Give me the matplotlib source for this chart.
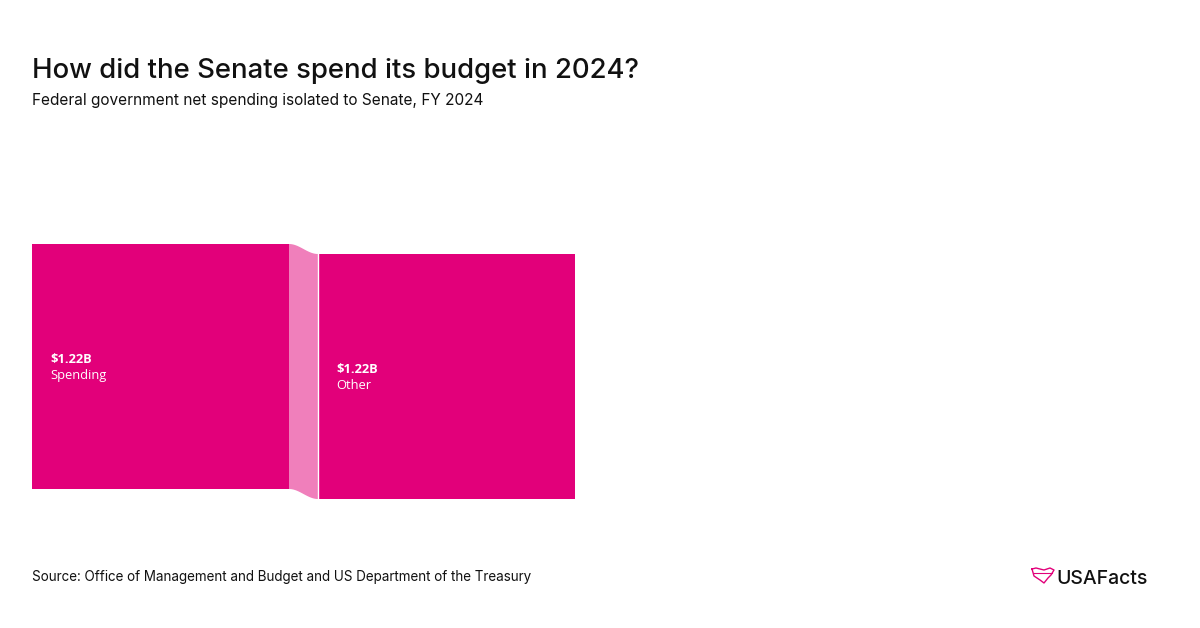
import matplotlib.pyplot as plt
from matplotlib.path import Path
from matplotlib.patches import PathPatch, Rectangle
import numpy as np

# data
source_label = "Spending"
target_labels = ["Other"]
source_value = 1.22  # billions
target_values = [1.22]
value_labels = ["$1.22B", "$1.22B"]

PINK = "#e2007a"
LINK = "#f07fbb"

W, H = 1200, 628
fig = plt.figure(figsize=(12, 6.28), dpi=100)
ax = fig.add_axes([0, 0, 1, 1])
ax.set_xlim(0, W)
ax.set_ylim(H, 0)
ax.axis("off")

# scale: pixels per billion
scale = 245 / 1.22
node_w = 257
gap = 29
x0 = 32
y0 = 244
shift = 10  # vertical offset of the target column


def node_label(x, y, val, name):
    ax.text(x + 18, y + 122, val, color="white", fontsize=9.3,
            fontweight="bold", family="Open Sans", va="bottom")
    ax.text(x + 18, y + 125, name, color="white", fontsize=9.3,
            family="Open Sans", va="top")


# source node
h_src = source_value * scale
ax.add_patch(Rectangle((x0, y0), node_w, h_src, color=PINK, lw=0))
node_label(x0, y0, value_labels[0], source_label)

# target nodes + links
x1 = x0 + node_w
x2 = x1 + gap
ty = y0 + shift
sy = y0
for val, lab, vlab in zip(target_values, target_labels, value_labels[1:]):
    h = val * scale
    t = np.linspace(0, 1, 40)
    s = (1 - np.cos(np.pi * t)) / 2
    xs = x1 + t * (x2 - x1)
    top = sy + s * (ty - sy)
    bot = top + h
    verts = list(zip(xs, top)) + list(zip(xs[::-1], bot[::-1])) + [(xs[0], top[0])]
    codes = [Path.MOVETO] + [Path.LINETO] * (len(verts) - 2) + [Path.CLOSEPOLY]
    ax.add_patch(PathPatch(Path(verts, codes), facecolor=LINK, edgecolor="none"))
    ax.add_patch(Rectangle((x2, ty), node_w, h, color=PINK, lw=0))
    ax.plot([x2, x2], [ty, ty + h], color="white", lw=1)
    node_label(x2, ty, vlab, lab)
    sy += h
    ty += h

# titles
ax.text(32, 78, "How did the Senate spend its budget in 2024?", fontsize=19.8,
        family="Inter", fontweight="medium", color="#111111", va="baseline")
ax.text(32, 105, "Federal government net spending isolated to Senate, FY 2024",
        fontsize=11.1, family="Inter", color="#111111", va="baseline")
ax.text(32, 581, "Source: Office of Management and Budget and US Department of the Treasury",
        fontsize=9.7, family="Inter", color="#111111", va="baseline")

# logo
ax.text(1148, 584, "USAFacts", fontsize=14, family="Inter", fontweight="medium",
        color="#111111", ha="right", va="baseline")
mx = np.array([1032, 1036, 1044, 1050, 1054, 1051, 1048, 1044, 1040, 1034, 1032])
my = np.array([569, 568, 570, 568, 570, 575, 578, 583, 580, 576, 569])
ax.plot(mx, my, color=PINK, lw=1)
ax.plot([1034, 1052], [573, 573], color=PINK, lw=0.8)

fig.savefig("out.png", dpi=100, facecolor="white")
